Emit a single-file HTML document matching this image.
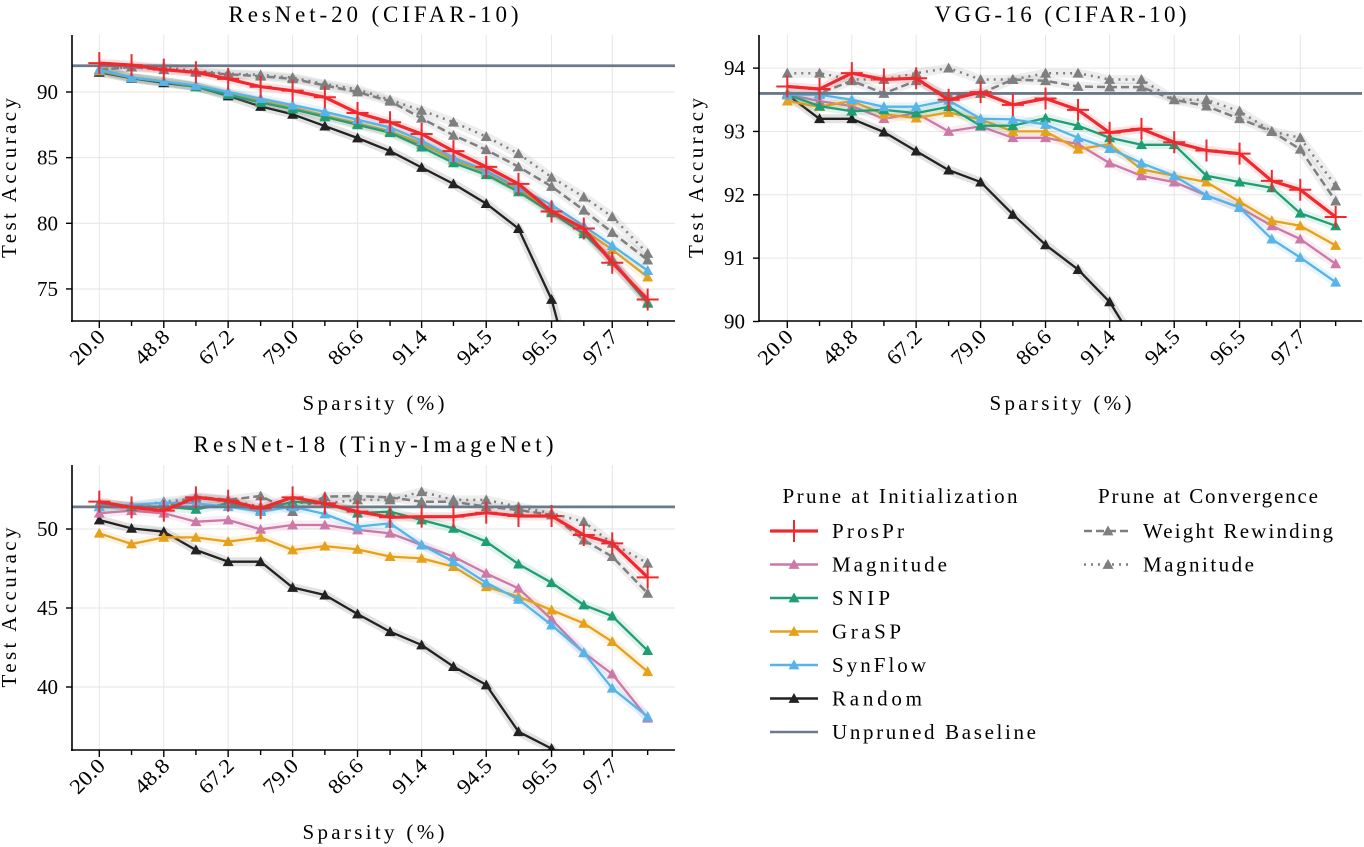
<!DOCTYPE html>
<html><head><meta charset="utf-8">
<style>
html,body{margin:0;padding:0;background:#fff;}
svg{display:block;font-family:"Liberation Serif",serif;}
</style></head>
<body>
<svg id="fig" width="1364" height="847" viewBox="0 0 1364 847" xmlns="http://www.w3.org/2000/svg"></svg>
<script>
// ---------- data ----------
const sparsity = [20.0,36.0,48.8,59.0,67.2,73.8,79.0,83.2,86.6,89.3,91.4,93.1,94.5,95.6,96.5,97.2,97.7,98.2];
const tickIdx = [0,2,4,6,8,10,12,14,16];
const tickLabels = ["20.0","48.8","67.2","79.0","86.6","91.4","94.5","96.5","97.7"];

// ResNet-20
const r20_prospr = [92.2,92.05,91.7,91.5,91.0,90.4,90.1,89.6,88.4,87.7,86.8,85.5,84.3,83.0,80.9,79.6,77.0,74.2];
const r20_mag    = [91.7,91.1,90.8,90.4,89.9,89.3,88.8,88.2,87.6,87.0,86.0,84.9,83.9,82.6,80.9,79.4,77.3,74.0];
const r20_snip   = [91.7,91.1,90.8,90.4,89.8,89.2,88.7,88.1,87.5,86.9,85.8,84.6,83.7,82.4,80.8,79.2,77.1,73.9];
const r20_grasp  = [91.6,91.1,90.8,90.4,89.9,89.3,88.8,88.2,87.6,87.0,86.1,84.8,83.9,82.6,81.0,79.5,78.0,75.9];
const r20_synflow= [91.7,91.1,90.8,90.5,90.0,89.5,89.0,88.5,87.9,87.3,86.3,85.0,84.0,82.7,81.4,79.8,78.3,76.4];
const r20_random = [91.5,91.05,90.7,90.4,89.7,88.9,88.3,87.4,86.5,85.5,84.25,83.0,81.5,79.6,74.2,65.0,60.0,55.0];
const r20_wr     = [91.7,91.9,91.7,91.5,91.35,91.2,91.0,90.5,90.0,89.3,88.0,86.7,85.6,84.3,82.8,81.0,79.3,77.2];
const r20_magc   = [91.7,91.9,91.9,91.6,91.4,91.3,91.1,90.6,90.2,89.4,88.6,87.7,86.6,85.3,83.5,82.0,80.5,77.7];
const r20_base = 92.0;

// VGG-16
const v16_prospr = [93.71,93.67,93.92,93.82,93.84,93.5,93.62,93.42,93.52,93.34,92.98,93.04,92.83,92.70,92.65,92.22,92.08,91.65];
const v16_mag    = [93.58,93.48,93.4,93.2,93.29,93.0,93.08,92.9,92.9,92.8,92.5,92.3,92.2,91.99,91.8,91.51,91.3,90.91];
const v16_snip   = [93.58,93.4,93.32,93.34,93.29,93.39,93.09,93.09,93.21,93.09,92.9,92.79,92.79,92.3,92.2,92.11,91.71,91.51];
const v16_grasp  = [93.48,93.39,93.48,93.27,93.21,93.3,93.19,93.0,93.0,92.72,92.8,92.4,92.3,92.2,91.89,91.59,91.51,91.2];
const v16_synflow= [93.58,93.58,93.5,93.39,93.39,93.49,93.2,93.19,93.11,92.9,92.73,92.5,92.3,91.99,91.8,91.3,91.01,90.62];
const v16_random = [93.58,93.2,93.2,92.99,92.69,92.39,92.2,91.69,91.21,90.82,90.31,89.5,88.7,87.8,87.0,86.0,85.0,84.0];
const v16_wr     = [93.6,93.6,93.8,93.6,93.8,93.55,93.6,93.82,93.8,93.71,93.7,93.7,93.5,93.4,93.2,93.0,92.72,91.9];
const v16_magc   = [93.92,93.92,93.82,93.82,93.92,94.0,93.82,93.82,93.92,93.92,93.82,93.82,93.5,93.5,93.32,93.0,92.9,92.14];
const v16_base = 93.6;

// ResNet-18
const r18_prospr = [51.73,51.37,51.16,52.0,51.79,51.31,52.0,51.62,51.1,50.74,50.78,50.78,51.03,50.82,50.82,49.62,49.09,46.94];
const r18_mag    = [51.0,51.16,51.0,50.46,50.57,49.98,50.25,50.25,49.94,49.73,48.99,48.25,47.19,46.24,44.28,42.17,40.82,38.02];
const r18_snip   = [51.41,51.41,51.41,51.24,51.62,51.2,51.73,51.62,51.0,51.1,50.57,50.04,49.2,47.78,46.6,45.19,44.49,42.3];
const r18_grasp  = [49.73,49.05,49.47,49.47,49.2,49.47,48.67,48.92,48.71,48.25,48.14,47.62,46.35,45.72,44.87,44.03,42.87,40.97];
const r18_synflow= [51.41,51.52,51.67,51.62,51.41,51.1,51.41,50.95,50.15,50.36,48.99,47.93,46.6,45.55,43.92,42.17,39.92,38.12];
const r18_random = [50.57,50.04,49.83,48.67,47.93,47.93,46.3,45.82,44.62,43.5,42.66,41.29,40.13,37.17,36.1,34.0,32.0,30.0];
const r18_wr     = [51.62,51.41,51.41,52.05,51.84,52.09,51.1,52.05,52.09,52.0,51.73,51.73,51.41,51.2,50.89,49.3,48.25,45.93];
const r18_magc   = [51.62,51.41,51.73,51.94,51.84,51.41,51.67,51.62,51.84,51.84,52.36,51.84,51.84,51.41,51.0,50.46,49.09,47.83];
const r18_base = 51.4;

const r20_yticks = [75,80,85,90];
const v16_yticks = [90,91,92,93,94];
const r18_yticks = [40,45,50];

// ---------- drawing ----------
const NS = "http://www.w3.org/2000/svg";
const svg = document.getElementById('fig');
function el(tag, attrs, parent){
  const e = document.createElementNS(NS, tag);
  for (const k in attrs) e.setAttribute(k, attrs[k]);
  (parent||svg).appendChild(e);
  return e;
}
const COL = {prospr:"#ee2a2f", mag:"#cc79a7", snip:"#1f9e74", grasp:"#e6a11c", synflow:"#56b4e9", random:"#222222", grey:"#7f7f7f", base:"#6a7a8b"};

function pos(s){ return Math.log((100-sparsity[0])/(100-s))/Math.log(1.25); }

function panel(cfg){
  const g = el('g', {});
  
  
  const X = s => cfg.xFirst + pos(s)*32.25;
  const Y = v => cfg.yRef - (v - cfg.vRef)*cfg.yUnit;
  const clipId = cfg.name + '-clip';
  const cp = el('clipPath', {id: clipId}, g);
  el('rect', {x: cfg.x0, y: cfg.y0, width: cfg.x1-cfg.x0, height: cfg.y1-cfg.y0}, cp);
  tickIdx.forEach(i => {
    const gl = el('line', {x1:X(sparsity[i]), x2:X(sparsity[i]), y1:cfg.y0, y2:cfg.y1, stroke:"#e6e6e6", 'stroke-width':1}, g);
    
    
  });
  cfg.yticks.forEach(v => {
    const gl = el('line', {x1:cfg.x0, x2:cfg.x1, y1:Y(v), y2:Y(v), stroke:"#e6e6e6", 'stroke-width':1}, g);
    
    
  });
  const plot = el('g', {'clip-path': 'url(#'+clipId+')'}, g);
  function series(name, vals, color, opts){
    const sg = el('g', {}, plot);
    
    
    const pts = vals.map((v,i)=>[X(sparsity[i]), Y(v)]);
    const d = pts.map(p=>p[0].toFixed(1)+','+p[1].toFixed(1)).join(' ');
    el('polyline', {points:d, fill:'none', stroke:color, 'stroke-width':9, 'stroke-opacity':0.13, 'stroke-linejoin':'round'}, sg);
    const ln = el('polyline', {points:d, fill:'none', stroke:color, 'stroke-width':opts.w||2.3, 'stroke-linejoin':'round'}, sg);
    if (opts.dash) ln.setAttribute('stroke-dasharray', opts.dash);
    pts.forEach(p => {
      let m;
      if (opts.plus){
        m = el('path', {d:`M${p[0]-11},${p[1]}H${p[0]+11}M${p[0]},${p[1]-11}V${p[1]+11}`, stroke:color, 'stroke-width':2}, sg);
      } else {
        const s=5.5;
        m = el('path', {d:`M${p[0]},${p[1]-s}L${p[0]+s},${p[1]+s*0.8}L${p[0]-s},${p[1]+s*0.8}Z`, fill:color}, sg);
      }
      
      
    });
  }
  const S = cfg.s;
  series('magnitude-convergence', S.magc, COL.grey, {dash:'2 5', w:2.5});
  series('weight-rewinding', S.wr, COL.grey, {dash:'8 4', w:2.5});
  series('random', S.random, COL.random, {});
  series('magnitude-init', S.mag, COL.mag, {});
  series('grasp', S.grasp, COL.grasp, {});
  series('snip', S.snip, COL.snip, {});
  series('synflow', S.synflow, COL.synflow, {});
  const bl = el('line', {x1:cfg.x0, x2:cfg.x1, y1:Y(cfg.base), y2:Y(cfg.base), stroke:COL.base, 'stroke-width':2.8}, plot);
  
  
  series('prospr', S.prospr, COL.prospr, {plus:true, w:3.2});
  el('line', {x1:cfg.x0, x2:cfg.x0, y1:cfg.y0, y2:cfg.y1+1, stroke:'#000', 'stroke-width':1.6}, g);
  el('line', {x1:cfg.x0-1, x2:cfg.x1, y1:cfg.y1, y2:cfg.y1, stroke:'#000', 'stroke-width':1.6}, g);
  sparsity.forEach((s,i) => {
    const major = tickIdx.indexOf(i) >= 0;
    el('line', {x1:X(s), x2:X(s), y1:cfg.y1, y2:cfg.y1+(major?7:5), stroke:'#000', 'stroke-width':1.4}, g);
  });
  tickIdx.forEach((i,k) => {
    const tx = X(sparsity[i]) + 7, ty = cfg.y1 + 17;
    const t = el('text', {x:tx, y:ty, 'font-size':21, 'text-anchor':'end', textLength:40, lengthAdjust:'spacingAndGlyphs', transform:`rotate(-45 ${tx} ${ty})`}, g);
    t.textContent = tickLabels[k];
    
    
  });
  cfg.yticks.forEach(v => {
    el('line', {x1:cfg.x0-6, x2:cfg.x0, y1:Y(v), y2:Y(v), stroke:'#000', 'stroke-width':1.4}, g);
    const t = el('text', {x:cfg.x0-14, y:Y(v)+7, 'font-size':21, 'text-anchor':'end'}, g);
    t.textContent = v;
    
    
  });
  const cx = (cfg.x0+cfg.x1)/2;
  const title = el('text', {x:cx, y:cfg.y0-13, 'font-size':23, 'text-anchor':'middle', textLength:cfg.titleLen, lengthAdjust:'spacing'}, g);
  title.textContent = cfg.title;
  
  
  const xl = el('text', {x:cx, y:cfg.y1+89, 'font-size':21, 'text-anchor':'middle', textLength:142, lengthAdjust:'spacing'}, g);
  xl.textContent = 'Sparsity (%)';
  
  
  const ym = (cfg.y0+cfg.y1)/2, yx = cfg.x0 - 56;
  const yl = el('text', {x:yx, y:ym, 'font-size':21, 'text-anchor':'middle', textLength:160, lengthAdjust:'spacing', transform:`rotate(-90 ${yx} ${ym})`}, g);
  yl.textContent = 'Test Accuracy';
  
  
}

panel({name:'resnet20-panel', title:'ResNet-20 (CIFAR-10)', titleLen:290, x0:72, x1:675, y0:35, y1:321, xFirst:99.3,
  yRef:92, vRef:90, yUnit:13.13, yticks:r20_yticks, base:r20_base,
  s:{prospr:r20_prospr, mag:r20_mag, snip:r20_snip, grasp:r20_grasp, synflow:r20_synflow, random:r20_random, wr:r20_wr, magc:r20_magc}});
panel({name:'vgg16-panel', title:'VGG-16 (CIFAR-10)', titleLen:252, x0:759, x1:1362, y0:35, y1:321, xFirst:787.3,
  yRef:321.5, vRef:90, yUnit:63.35, yticks:v16_yticks, base:v16_base,
  s:{prospr:v16_prospr, mag:v16_mag, snip:v16_snip, grasp:v16_grasp, synflow:v16_synflow, random:v16_random, wr:v16_wr, magc:v16_magc}});
panel({name:'resnet18-panel', title:'ResNet-18 (Tiny-ImageNet)', titleLen:360, x0:72, x1:675, y0:465, y1:750, xFirst:99.3,
  yRef:529, vRef:50, yUnit:15.8, yticks:r18_yticks, base:r18_base,
  s:{prospr:r18_prospr, mag:r18_mag, snip:r18_snip, grasp:r18_grasp, synflow:r18_synflow, random:r18_random, wr:r18_wr, magc:r18_magc}});

// legend
(function(){
  const lg = el('g', {});
  
  
  function t(x,y,s,len,anchor){const e=el('text',{x:x,y:y,'font-size':21,textLength:len,lengthAdjust:'spacing'},lg);if(anchor)e.setAttribute('text-anchor',anchor);e.textContent=s;return e;}
  function line(x1,x2,y,c,w,dash){const e=el('line',{x1:x1,x2:x2,y1:y,y2:y,stroke:c,'stroke-width':w},lg);if(dash)e.setAttribute('stroke-dasharray',dash);return e;}
  function tri(x,y,c){const s=5.5;el('path',{d:`M${x},${y-s}L${x+s},${y+s*0.8}L${x-s},${y+s*0.8}Z`,fill:c},lg);}
  const h1=t(900,503,'Prune at Initialization',235,'middle');
  
  
  const h2=t(1208,503,'Prune at Convergence',220,'middle');
  
  
  const ent=[['ProsPr','#ee2a2f','plus',72],['Magnitude','#cc79a7','tri',115],['SNIP','#1f9e74','tri',58],['GraSP','#e6a11c','tri',69],['SynFlow','#56b4e9','tri',94],['Random','#222222','tri',90],['Unpruned Baseline','#6a7a8b','none',204]];
  ent.forEach((e,i)=>{
    const y=531+i*33.5;
    line(770,818,y,e[1],e[0]==='ProsPr'?3.2:2.5);
    if(e[2]==='tri') tri(794,y,e[1]);
    if(e[2]==='plus') el('path',{d:`M783,${y}H805M794,${y-11}V${y+11}`,stroke:e[1],'stroke-width':2},lg);
    const tx=t(832,y+7,e[0],e[3]);
    
    
  });
  [['Weight Rewinding','8 4',190],['Magnitude','2 5',111]].forEach((e,i)=>{
    const y=531+i*33.5;
    line(1084,1132,y,'#7f7f7f',2.5,e[1]);
    tri(1108,y,'#7f7f7f');
    const tx=t(1143,y+7,e[0],e[2]);
    
    
  });
})();
</script>
</body></html>
